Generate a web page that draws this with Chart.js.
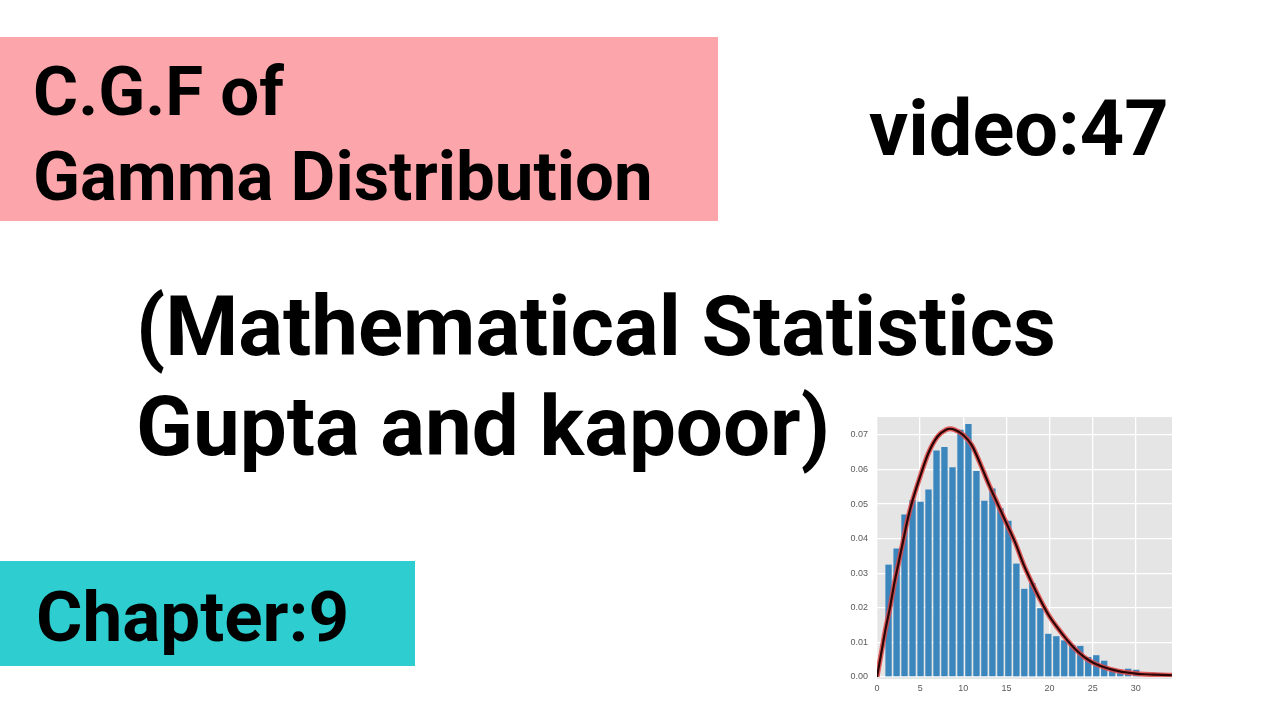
<!DOCTYPE html>
<html>
<head>
<meta charset="utf-8">
<script src="https://cdn.jsdelivr.net/npm/chart.js@4.4.1/dist/chart.umd.min.js"></script>
<style>
  html, body { margin: 0; padding: 0; background: #ffffff; }
  body { width: 1280px; height: 720px; position: relative; overflow: hidden; font-family: Roboto, "Noto Sans", sans-serif; }
  .box { position: absolute; }
  .t { position: absolute; font-weight: 700; color: #000; line-height: 1; white-space: nowrap; }
  #chartWrap { position: absolute; left: 835px; top: 410px; width: 345px; height: 290px; }
</style>
</head>
<body>
<div class="box" style="left:0;top:37px;width:718px;height:184px;background:#fca6ab;"></div>
<div class="box" style="left:0;top:561px;width:415px;height:105px;background:#2dcdd0;"></div>

<div class="t" style="left:33px;top:57px;font-size:69px;">C.G.F of</div>
<div class="t" style="left:33px;top:142px;font-size:69px;">Gamma Distribution</div>
<div class="t" style="left:869px;top:90px;font-size:77.5px;">video:47</div>
<div class="t" style="left:136px;top:285px;font-size:83.5px;">(Mathematical Statistics</div>
<div class="t" style="left:136px;top:385px;font-size:83.5px;">Gupta and kapoor)</div>
<div class="t" style="left:36px;top:581px;font-size:71px;">Chapter:9</div>

<div id="chartWrap"><canvas id="c"></canvas></div>

<script>
// Histogram bin centers and densities
const binCenters = [1.34, 2.27, 3.19, 4.12, 5.05, 5.97, 6.90, 7.82, 8.75, 9.68,
                    10.60, 11.53, 12.45, 13.38, 14.31, 15.23, 16.16, 17.08, 18.01, 18.94,
                    19.86, 20.79, 21.71, 22.64, 23.57, 24.49, 25.42, 26.34, 27.27, 28.20,
                    29.12, 30.05];
const binDensity = [0.0325, 0.0372, 0.0470, 0.0512, 0.0507, 0.0542, 0.0655, 0.0665, 0.0607, 0.0715,
                    0.0732, 0.0596, 0.0510, 0.0545, 0.0488, 0.0452, 0.0328, 0.0255, 0.0272, 0.0199,
                    0.0125, 0.0118, 0.0106, 0.0092, 0.0090, 0.0058, 0.0063, 0.0047, 0.0025, 0.0015,
                    0.0024, 0.0021];
// Fitted density curve
const curveX = [0, 0.5, 1, 1.5, 2, 2.5, 3, 3.5, 4, 5, 6, 7, 8, 8.5, 9, 10, 11, 12, 13, 14,
                15, 16, 17, 18, 19, 20, 21, 22, 23, 24, 25, 26, 27, 28, 29, 30, 31, 32, 33, 34.2];
const curveY = [0, 0.007, 0.014, 0.020, 0.027, 0.033, 0.039, 0.045, 0.050, 0.058, 0.065, 0.0695, 0.0715, 0.0718, 0.0715, 0.0700,
                0.0670, 0.0615, 0.0555, 0.0500, 0.0445, 0.0390, 0.0325, 0.0270, 0.0220, 0.0175, 0.0140, 0.0108, 0.0080, 0.0058,
                0.0042, 0.0031, 0.0023, 0.0017, 0.0013, 0.0010, 0.0008, 0.0007, 0.0006, 0.0005];
const xTicks = [0, 5, 10, 15, 20, 25, 30];
const yTicks = [0.00, 0.01, 0.02, 0.03, 0.04, 0.05, 0.06, 0.07];

const bgPlugin = {
  id: 'bg',
  beforeDraw(chart) {
    const { ctx, chartArea: a } = chart;
    ctx.save();
    ctx.fillStyle = '#e5e5e5';
    ctx.fillRect(a.left, a.top, a.right - a.left, a.bottom - a.top + 2);
    ctx.restore();
  }
};

new Chart(document.getElementById('c'), {
  type: 'bar',
  data: {
    datasets: [
      {
        type: 'line',
        data: curveX.map((x, i) => ({ x, y: curveY[i] })),
        borderColor: '#2a0505',
        borderWidth: 2.2,
        pointRadius: 0,
        cubicInterpolationMode: 'monotone',
        order: 0
      },
      {
        type: 'line',
        data: curveX.map((x, i) => ({ x, y: curveY[i] })),
        borderColor: 'rgba(225,70,70,0.85)',
        borderWidth: 5,
        pointRadius: 0,
        cubicInterpolationMode: 'monotone',
        order: 1
      },
      {
        type: 'bar',
        data: binCenters.map((x, i) => ({ x, y: binDensity[i] })),
        backgroundColor: '#3a86bd',
        borderWidth: 0,
        barPercentage: 0.8,
        categoryPercentage: 1.0,
        order: 2
      }
    ]
  },
  options: {
    responsive: true,
    maintainAspectRatio: false,
    animation: false,
    layout: { padding: { top: 7, right: 8, bottom: 0, left: 0 } },
    plugins: { legend: { display: false }, tooltip: { enabled: false } },
    scales: {
      x: {
        type: 'linear',
        min: 0,
        max: 34.2,
        offset: false,
        afterBuildTicks: s => { s.ticks = xTicks.map(v => ({ value: v })); },
        afterFit: s => { s.height = 23; s.paddingLeft = 0; s.paddingRight = 0; },
        grid: { color: '#ffffff', lineWidth: 1.3, drawTicks: false, offset: false },
        border: { display: false },
        ticks: { color: '#5a5a5a', font: { size: 9, family: 'Liberation Sans' }, padding: 6, maxRotation: 0,
                 callback: v => String(v) }
      },
      y: {
        min: 0,
        max: 0.0752,
        afterBuildTicks: s => { s.ticks = yTicks.map(v => ({ value: v })); },
        afterFit: s => { s.width = 42; s.paddingTop = 0; s.paddingBottom = 0; },
        grid: { color: '#ffffff', lineWidth: 1.3, drawTicks: false },
        border: { display: false },
        ticks: { color: '#5a5a5a', font: { size: 9, family: 'Liberation Sans' }, padding: 9,
                 callback: v => Number(v).toFixed(2) }
      }
    }
  },
  plugins: [bgPlugin]
});
</script>
</body>
</html>
